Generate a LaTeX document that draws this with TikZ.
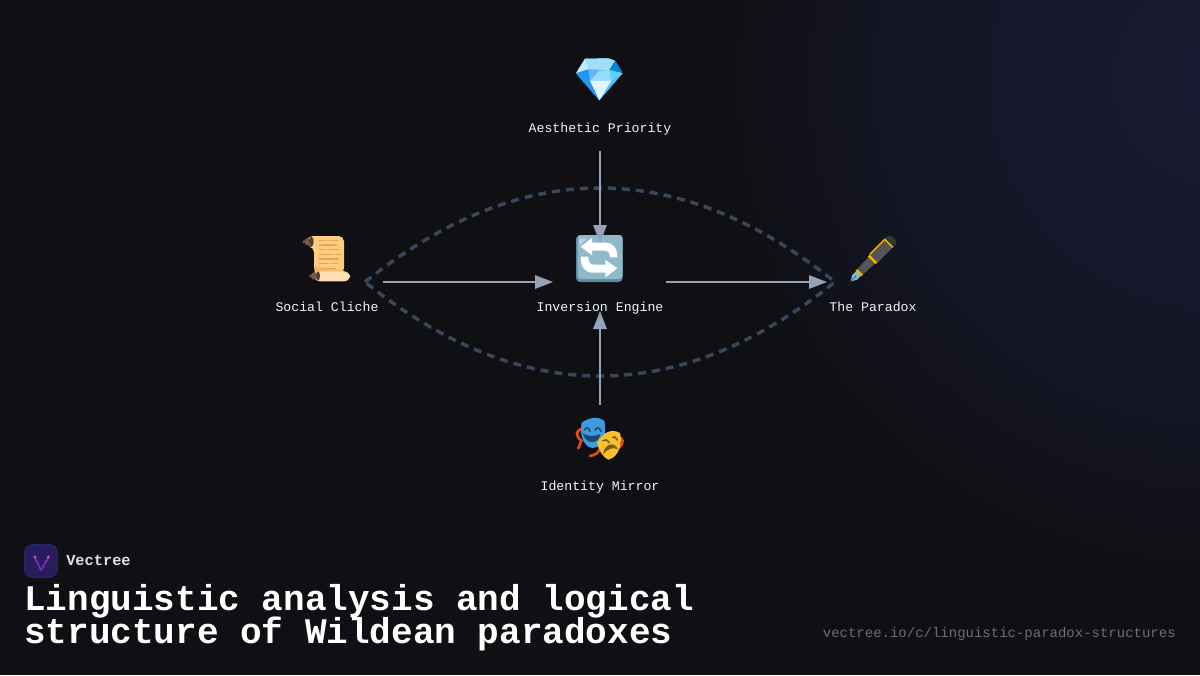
\documentclass[tikz,border=0pt]{standalone}
\usepackage{fontspec}
\setmonofont{Liberation Mono}
\usetikzlibrary{arrows.meta}
\definecolor{bgbase}{HTML}{0F0F14}
\definecolor{bgnavy}{HTML}{171A30}
\definecolor{flowc}{HTML}{94A3B8}
\definecolor{lensc}{HTML}{37485C}
\definecolor{labelc}{HTML}{F1F5F9}
\definecolor{logov}{HTML}{7B2CBF}
\definecolor{logod}{HTML}{BE50C8}
\definecolor{logof}{HTML}{261E5C}
\definecolor{logob}{HTML}{342C70}
\tikzset{
 x=0.75pt,y=-0.75pt,
 anchorbox/.style={inner sep=0pt,outer sep=0pt,minimum width=#1},
 lbl/.style={font=\ttfamily\fontsize{9.9pt}{12pt}\selectfont,text=labelc,anchor=base,inner sep=0pt},
 flow/.style={draw=flowc,line width=1.5pt,-{Triangle[length=13.5pt,width=10pt]}},
 lens/.style={draw=lensc,line width=2.6pt,dash pattern=on 6pt off 4.5pt,line join=miter},
 titletext/.style={font=\ttfamily\bfseries\fontsize{27pt}{24.75pt}\selectfont,text=white,anchor=base west,inner sep=0pt},
}
\begin{document}
\begin{tikzpicture}
\useasboundingbox (0,0) rectangle (1200,675);
\fill[bgbase] (0,0) rectangle (1200,675);
\begin{scope}
 \clip (0,0) rectangle (1200,675);
 % soft navy glow in the upper right, built from concentric discs
 \foreach \rr in {500,485,...,5}{
  \pgfmathsetmacro{\pp}{100*(1-(\rr/500)*(\rr/500))}
  \fill[bgnavy!\pp!bgbase] (1220,80) circle (\rr);
 }
\end{scope}

% invisible layout nodes that the connectors attach to
\node[anchorbox=84pt,minimum height=51pt] (cliche) at (327,277) {};
\node[anchorbox=70.5pt,minimum height=51pt] (engine) at (600,277) {};
\node[anchorbox=69pt,minimum height=51pt] (paradox) at (873,277) {};
\node[anchorbox=106.5pt,minimum height=84pt] (aesthetic) at (600,95) {};
\node[anchorbox=106.5pt,minimum height=84pt] (mirror) at (600,461) {};
\coordinate (lensL) at (365,282);
\coordinate (lensR) at (835,282);

% --- gem
\begin{scope}[shift={(540,40)},x=0.25pt,y=-0.25pt]
 \fill[rounded corners=1pt,fill={rgb,255:red,79;green,195;blue,247}] (135,56) -- (205,55) -- (225,62) -- (248,100) -- (178,181) -- (108,100) -- cycle;
 \fill[fill={rgb,255:red,160;green,222;blue,250}] (135,56) -- (205,55) -- (225,62) -- (208,90) -- (145,88) -- cycle;
 \fill[fill={rgb,255:red,190;green,236;blue,253}] (135,56) -- (145,88) -- (108,100) -- cycle;
 \fill[fill={rgb,255:red,2;green,136;blue,209}] (225,62) -- (248,100) -- (208,90) -- cycle;
 \fill[fill={rgb,255:red,33;green,150;blue,243}] (108,100) -- (145,88) -- (150,122) -- (178,181) -- cycle;
 \fill[fill={rgb,255:red,100;green,181;blue,246}] (145,88) -- (178,92) -- (150,122) -- cycle;
 \fill[fill={rgb,255:red,150;green,220;blue,250}] (178,92) -- (208,90) -- (214,122) -- (150,122) -- cycle;
 \fill[fill={rgb,255:red,105;green,205;blue,250}] (208,90) -- (248,100) -- (214,122) -- cycle;
 \fill[fill={rgb,255:red,225;green,245;blue,254}] (150,122) -- (214,122) -- (178,181) -- cycle;
\end{scope}

% --- scroll
\begin{scope}[shift={(270,220)},x=0.25pt,y=-0.25pt]
 \definecolor{scrolla}{HTML}{FFCC80}\definecolor{scrollb}{HTML}{FFE0B2}\definecolor{scrollc}{HTML}{F6B560}\definecolor{scrolld}{HTML}{795548}\definecolor{scrolle}{HTML}{DFA75B}
 \fill[scrolla,rounded corners=4pt] (112,48) -- (222,48) -- (222,160) -- (132,160) -- (132,80) -- (112,80) -- cycle;
 \fill[scrollc] (134,140) -- (222,152) -- (222,160) -- (134,160) -- cycle;
 \fill[scrolld] (102,65) ellipse (5 and 5);
 \fill[scrolld] (112,65) ellipse (9 and 11);
 \fill[scrolld!70!black] (124,65) ellipse (7 and 15);
 \fill[scrollb,rounded corners=4.5pt] (132,154) rectangle (240,184);
 \fill[scrolld] (122,168) ellipse (5 and 5);
 \fill[scrolld] (132,168) ellipse (9 and 11);
 \fill[scrolld!70!black] (144,168) ellipse (6 and 14);
 \foreach \ya/\xa/\xb in {62/148/170,62/176/205,75/148/200,88/148/165,88/172/208,103/148/188,103/195/212,117/148/207,130/148/178,130/184/205,145/162/198}
  \draw[scrolle,line width=1.1pt] (\xa,\ya) -- (\xb,\ya);
\end{scope}

% --- engine
\begin{scope}[shift={(530,220)},x=0.25pt,y=-0.25pt]
 \definecolor{enga}{HTML}{90B9C9}\definecolor{engb}{HTML}{5B8A9C}\definecolor{engc}{HTML}{B5D3DE}
 \fill[engb,rounded corners=3pt] (138,45) rectangle (278,186);
 \fill[enga,rounded corners=2.5pt] (143,45) rectangle (278,177);
 \fill[engc,rounded corners=1pt] (147,55) -- (170,55) -- (150,75) -- (147,75) -- cycle;
 \fill[white] (152,80) -- (186,54) -- (186,68) -- (225,68) .. controls (250,68) and (262,85) .. (262,112) -- (240,112) .. controls (240,100) and (235,92) .. (222,92) -- (186,92) -- (186,106) -- cycle;
 \fill[white] (262,145) -- (226,172) -- (226,158) -- (190,158) .. controls (165,158) and (152,142) .. (152,110) -- (175,110) .. controls (175,125) and (180,134) .. (192,134) -- (226,134) -- (226,119) -- cycle;
\end{scope}

% --- pen
\begin{scope}[shift={(850.5,281.5)},rotate=45,x=0.75pt,y=0.75pt]
 \definecolor{pena}{HTML}{555555}\definecolor{penb}{HTML}{F9B000}\definecolor{penc}{HTML}{7FBBD0}\definecolor{pend}{HTML}{37474F}
 \fill[penc] (0,0) -- (6,-3.4) -- (11,-3.2) -- (11,3.2) -- (6,3.4) -- cycle;
 \draw[pend,line width=.5pt] (0,0) -- (7,0);
 \fill[pend] (7,0) circle (.9);
 \fill[pena] (12,-3.8) -- (30,-4.6) -- (30,4.6) -- (12,3.8) -- cycle;
 \fill[penb] (11,-4) rectangle (13.5,4);
 \fill[pena] (32,-5.8) -- (58,-5.8) -- (61,-3) -- (61,3) -- (58,5.8) -- (32,5.8) -- cycle;
 \fill[penb] (30,-5.4) rectangle (32.5,5.4);
 \fill[pena!60!black] (55,-5.8) -- (58,-5.8) -- (61,-3) -- (61,3) -- (58,5.8) -- (55,5.8) -- cycle;
 \draw[penb,line width=1.1pt] (33,5.6) -- (54,5.6) -- (54,-5.8);
\end{scope}

% --- masks
\begin{scope}[shift={(540,400)},x=0.25pt,y=-0.25pt]
 \definecolor{maska}{HTML}{3F9BE0}\definecolor{maskb}{HTML}{FBC02D}\definecolor{maskc}{HTML}{E64A19}\definecolor{maskd}{HTML}{174A73}\definecolor{maske}{HTML}{7A5A10}
 \draw[maskc,line width=2pt,line cap=round] (130,87) .. controls (106,88) and (105,108) .. (124,122) -- (115,145);
 \draw[maskc,line width=2pt,line cap=round] (178,148) .. controls (175,160) and (165,165) .. (150,168);
 \fill[maska] (125,68) .. controls (150,50) and (178,50) .. (193,62) .. controls (200,100) and (195,143) .. (156,144) .. controls (128,138) and (118,100) .. (125,68) -- cycle;
 \draw[maskd,line width=1.2pt,line cap=round] (133,90) .. controls (140,80) and (145,82) .. (150,94);
 \draw[maskd,line width=1.2pt,line cap=round] (165,90) .. controls (170,80) and (178,82) .. (184,94);
 \fill[maskd] (128,100) .. controls (145,110) and (162,110) .. (181,102) .. controls (176,134) and (138,136) .. (128,100) -- cycle;
 \draw[maskc,line width=2pt,line cap=round] (232,112) .. controls (252,112) and (252,130) .. (238,143);
 \fill[maskb] (171,128) .. controls (188,98) and (215,84) .. (240,99) .. controls (248,125) and (238,172) .. (205,179) .. controls (188,172) and (176,150) .. (171,128) -- cycle;
 \draw[maske,line width=1.2pt,line cap=round] (188,122) .. controls (195,118) and (202,118) .. (207,128);
 \draw[maske,line width=1.2pt,line cap=round] (218,112) .. controls (222,108) and (228,112) .. (232,120);
 \fill[maske] (189,162) .. controls (194,132) and (222,122) .. (234,148) .. controls (218,140) and (205,146) .. (189,162) -- cycle;
\end{scope}

% --- connectors
\draw[lens] (lensL) .. controls (521.67,156.67) and (678.33,156.67) .. (lensR) .. controls (678.33,407.33) and (521.67,407.33) .. (lensL) -- cycle;
\draw[flow] (aesthetic.south) -- (engine.north);
\draw[flow] (mirror.north) -- (engine.south);
\draw[flow] ([yshift=-3.75pt]cliche.east) -- ([yshift=-3.75pt]engine.west);
\draw[flow] ([xshift=14.25pt,yshift=-3.75pt]engine.east) -- ([yshift=-3.75pt]paradox.west);

% --- labels
\node[lbl] (lblA) at (600,132) {Aesthetic Priority};
\node[lbl] (lblB) at (327,311) {Social Cliche};
\node[lbl] (lblC) at (600,311) {Inversion Engine};
\node[lbl] (lblD) at (873,311) {The Paradox};
\node[lbl] (lblE) at (600,490) {Identity Mirror};

% --- footer
\node[inner sep=0pt,outer sep=0pt,minimum size=25pt,rounded corners=7pt,fill=logof,draw=logob,line width=.5pt] (logo) at (41,561) {};
\begin{scope}[shift={(15,535)},x=0.25pt,y=-0.25pt]
 \draw[logov,line width=1.2pt,line join=round] (60,68) -- (78,106) -- (100,68);
 \draw[logov,line width=.9pt] (60,76) -- (70,80) (100,76) -- (88,82);
 \fill[logod] (60,66) circle (5) (100,66) circle (5);
\end{scope}
\node[font=\ttfamily\bfseries\fontsize{11.5pt}{14pt}\selectfont,text=white!88!black,anchor=base west,inner sep=0pt] (brand) at (66,565.5) {Vectree};
\node[titletext] (title1) at (24,610.5) {Linguistic analysis and logical};
\node[titletext] (title2) at (24,643.5) {structure of Wildean paradoxes};
\node[font=\ttfamily\fontsize{10.5pt}{12pt}\selectfont,text=white!40!bgbase,anchor=base east,inner sep=0pt] (url) at (1176,637) {vectree.io/c/linguistic-paradox-structures};
\end{tikzpicture}
\end{document}
